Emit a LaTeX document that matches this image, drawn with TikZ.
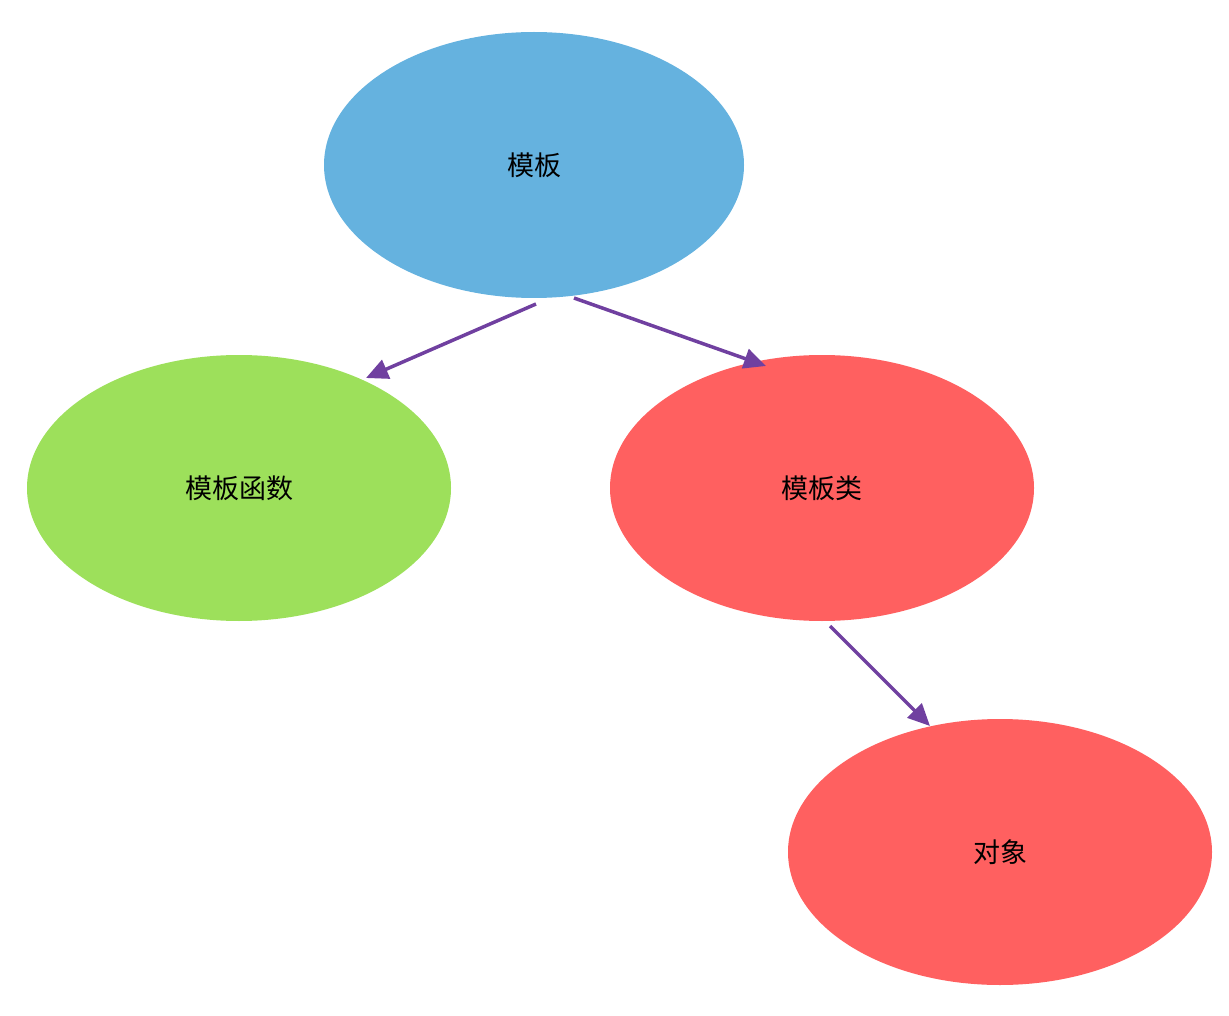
\documentclass[tikz,border=0pt]{standalone}
\usepackage{fontspec}
\setmainfont{Noto Sans CJK SC}
\usetikzlibrary{shapes.geometric,arrows.meta}
\definecolor{cblue}{HTML}{65B2DF}
\definecolor{cgreen}{HTML}{9DE05B}
\definecolor{cred}{HTML}{FF6060}
\definecolor{cpurple}{HTML}{7040A0}
\tikzset{
 ell/.style={ellipse,draw=none,minimum width=424pt,minimum height=266pt,font=\fontsize{27}{30}\selectfont,text=black},
 link/.style={cpurple,line width=3.5pt,-{Triangle[length=22pt,width=20pt]}}
}
\begin{document}
\begin{tikzpicture}[x=1pt,y=-1pt]
\useasboundingbox (0,0) rectangle (1229,1016);
\node[ell,fill=cblue,minimum width=420pt] (top) at (534,165) {模板};
\node[ell,fill=cgreen] (fn) at (239,488) {模板函数};
\node[ell,fill=cred] (cls) at (822,488) {模板类};
\node[ell,fill=cred] (obj) at (1000,852) {对象};
\coordinate (a1) at (536,304);
\coordinate (a2) at (366,378);
\coordinate (b1) at (574,298);
\coordinate (b2) at (766,366);
\coordinate (c1) at (830,626);
\coordinate (c2) at (930,726);
\draw[link] (a1) -- (a2);
\draw[link] (b1) -- (b2);
\draw[link] (c1) -- (c2);
\end{tikzpicture}
\end{document}
